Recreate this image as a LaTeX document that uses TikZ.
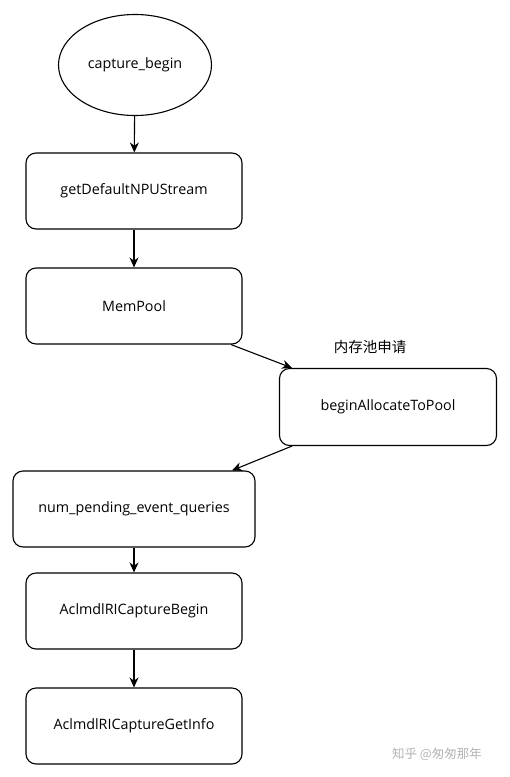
\documentclass[tikz,border=0pt]{standalone}
\usepackage{fontspec}
\setmainfont{Open Sans}
\newfontfamily\cjk{Noto Sans CJK SC}
\usetikzlibrary{arrows.meta}
\usetikzlibrary{shapes.geometric}

\begin{document}
\begin{tikzpicture}[x=1pt, y=-1pt,
    stepbox/.style={draw, rounded corners=10pt, line width=1.1pt, minimum width=216pt, minimum height=76pt, font=\fontsize{14.3}{17}\selectfont},
    flow/.style={line width=1.1pt, -{Stealth[length=10pt, width=9pt]}}]
      \useasboundingbox (0,0) rectangle (510,777);
      \node[ellipse, draw, line width=1.1pt, minimum width=153pt, minimum height=101pt, font=\fontsize{14.3}{17}\selectfont] (begin) at (135,65) {capture\_begin};
      \node[stepbox] (stream) at (134,191) {getDefaultNPUStream};
      \node[stepbox] (pool) at (134,306) {MemPool};
      \node[stepbox, minimum width=217pt, minimum height=77pt] (alloc) at (388,407) {beginAllocateToPool};
      \node[stepbox, minimum width=242pt] (pending) at (134,509) {num\_pending\_event\_queries};
      \node[stepbox] (capbegin) at (134,611) {AclmdlRICaptureBegin};
      \node[stepbox] (getinfo) at (134,726) {AclmdlRICaptureGetInfo};

      \node[font=\cjk\fontsize{14.5}{17}\selectfont] (note) at (370,347) {内存池申请};
      \node[font=\cjk\fontsize{12.5}{14}\selectfont, text=black!30] (mark) at (437,754) {知乎 @匆匆那年};

      \draw[flow] (begin) -- (stream);
      \draw[flow] (stream) -- (pool);
      \draw[flow] ([xshift=97pt]pool.south) -- ([xshift=-96pt]alloc.north);
      \draw[flow] ([xshift=-96pt]alloc.south) -- ([xshift=98pt]pending.north);
      \draw[flow] (pending) -- (capbegin);
      \draw[flow] (capbegin) -- (getinfo);
    \end{tikzpicture}
\end{document}
